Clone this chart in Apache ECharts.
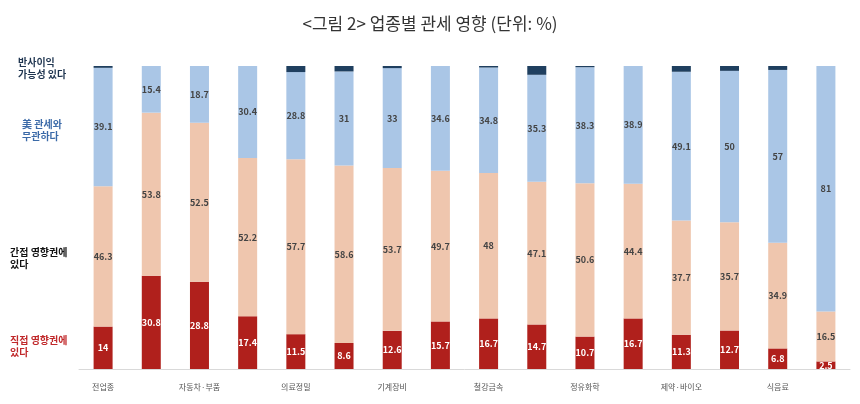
<!DOCTYPE html>
<html>
<head>
<meta charset="utf-8">
<script src="https://cdn.jsdelivr.net/npm/echarts@6/dist/echarts.min.js"></script>
<style>html,body{margin:0;background:#fff}#c{width:860px;height:404px}</style>
</head>
<body>
<div id="c"></div>
<script>
var categories = ['전업종','배터리','자동차·부품','반도체','의료정밀','전기장비','기계장비','전자통신','철강금속','조선·부품','정유화학','화장품','제약·바이오','섬유의류','식음료','비금속광물'];
var direct   = [14, 30.8, 28.8, 17.4, 11.5, 8.6, 12.6, 15.7, 16.7, 14.7, 10.7, 16.7, 11.3, 12.7, 6.8, 2.5];
var indirect = [46.3, 53.8, 52.5, 52.2, 57.7, 58.6, 53.7, 49.7, 48, 47.1, 50.6, 44.4, 37.7, 35.7, 34.9, 16.5];
var unrelated = [39.1, 15.4, 18.7, 30.4, 28.8, 31, 33, 34.6, 34.8, 35.3, 38.3, 38.9, 49.1, 50, 57, 81];
var benefit  = [0.6, 0, 0, 0, 2, 1.8, 0.7, 0, 0.5, 2.9, 0.4, 0, 1.9, 1.6, 1.3, 0];

var chart = echarts.init(document.getElementById('c'));
var font = '"Noto Sans CJK KR", sans-serif';
function ser(name, data, color, labelColor, showLabel) {
  return {
    name: name, type: 'bar', stack: 'a', data: data, barWidth: 19,
    itemStyle: { color: color },
    label: {
      show: showLabel, position: 'inside', color: labelColor,
      fontSize: 9, fontWeight: 'bold', fontFamily: font
    }
  };
}
chart.setOption({
  animation: false,
  title: {
    text: '<그림 2> 업종별 관세 영향 (단위: %)', left: 'center', top: 10,
    textStyle: { fontSize: 17, fontWeight: 'normal', color: '#333', fontFamily: font }
  },
  grid: { left: 79, right: 10, top: 66, bottom: 35 },
  xAxis: {
    type: 'category', data: categories,
    axisLine: { lineStyle: { color: '#d9d9d9' } },
    axisTick: { show: false },
    axisLabel: { fontSize: 8, color: '#555', fontFamily: font, margin: 14 }
  },
  yAxis: { type: 'value', min: 0, max: 100, show: false },
  series: [
    ser('직접', direct, '#b0201c', '#fff', true),
    ser('간접', indirect, '#efc6ae', '#444', true),
    ser('무관', unrelated, '#aac6e6', '#444', true),
    ser('반사', benefit, '#1f3f5f', '#444', false)
  ],
  graphic: [
    { type: 'text', left: 18, top: 56, style: { text: '반사이익\n가능성 있다', align: 'center', x: 40, fill: '#1f3550', font: 'bold 10px ' + font, lineHeight: 12 } },
    { type: 'text', left: 22, top: 118, style: { text: '美 관세와\n무관하다', align: 'center', fill: '#3b6aa8', font: 'bold 10px ' + font, lineHeight: 12 } },
    { type: 'text', left: 10, top: 246, style: { text: '간접 영향권에\n있다', align: 'center', fill: '#111', font: 'bold 10px ' + font, lineHeight: 12 } },
    { type: 'text', left: 10, top: 334, style: { text: '직접 영향권에\n있다', align: 'center', fill: '#c0282a', font: 'bold 10px ' + font, lineHeight: 12 } }
  ]
});
</script>
</body>
</html>
